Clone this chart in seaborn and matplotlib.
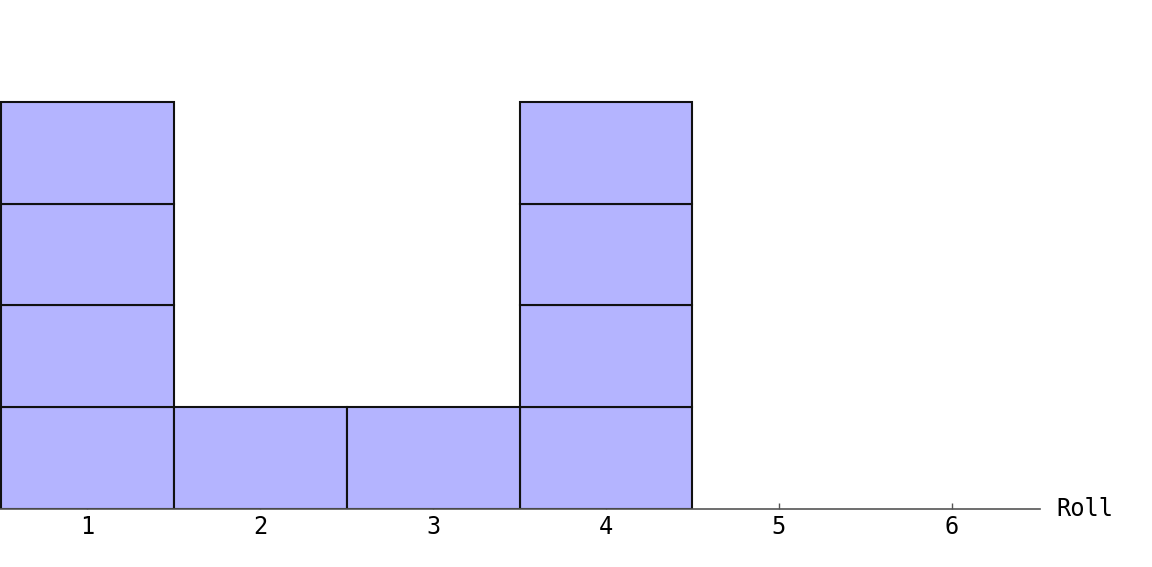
import numpy as np
import pandas as pd
import matplotlib
matplotlib.use("Agg")
import matplotlib.pyplot as plt
import seaborn as sns

rolls = [1, 2, 3, 4, 5, 6]
counts = [4, 1, 1, 4, 0, 0]
tick_labels = ["1", "2", "3", "4", "5", "6"]
axis_label = "Roll"

# long-format data: one row per observed roll, with its occurrence index (for stacking blocks)
rows = []
for r, c in zip(rolls, counts):
    for k in range(c):
        rows.append({"Roll": r, "occ": k})
df = pd.DataFrame(rows)

sns.set_theme(style="white")
plt.rcParams['font.family'] = ['DejaVu Sans Mono', 'DejaVu Sans']

fig = plt.figure(figsize=(11.52, 5.67), dpi=100)
ax = fig.add_axes([0.0, 0.1023, 0.9028, 0.8977])

fill = "#b4b4ff"
levels = sorted(df["occ"].unique())
sns.histplot(data=df, x="Roll", hue="occ", hue_order=levels, multiple="stack",
             discrete=True, shrink=1, palette={l: fill for l in levels},
             alpha=1, edgecolor="#111111", linewidth=1.5, legend=False, ax=ax)

ax.set_xlim(0.495, 6.51)
ax.set_ylim(0, 5)
ax.set_xticks(rolls)
ax.set_xticklabels(tick_labels, fontsize=17, color="black")
ax.set_yticks([])
ax.set_ylabel("")
ax.set_xlabel("")
for s in ["top", "right", "left"]:
    ax.spines[s].set_visible(False)
ax.spines["bottom"].set_color("#555555")
ax.spines["bottom"].set_linewidth(1.2)
ax.tick_params(axis="x", direction="in", length=4, width=1, color="#555555", pad=4, bottom=True)
ax.text(1.016, 0.0, axis_label, transform=ax.transAxes, fontsize=17, ha="left", va="center",
        color="black")

fig.savefig("out.png", dpi=100)
